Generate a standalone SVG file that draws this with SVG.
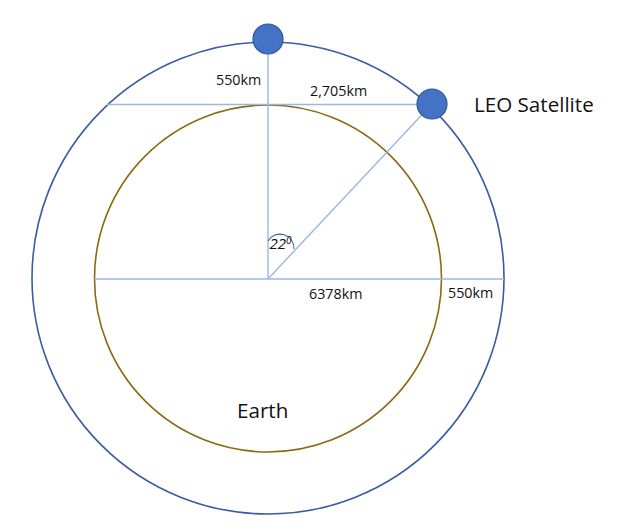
<svg xmlns="http://www.w3.org/2000/svg" width="624" height="532" viewBox="0 0 624 532">
<style>
  .ln { stroke: #9db5e3; stroke-width: 1.4; fill: none; }
  .orbit { stroke: #3a5ca3; stroke-width: 1.6; fill: none; }
  .earth { stroke: #8c6a12; stroke-width: 1.6; fill: none; }
  .sat { fill: #4472c4; stroke: #2f5597; stroke-width: 1.2; }
  .lbl { font-family: "Open Sans", "Liberation Sans", sans-serif; font-size: 14.3px; fill: #111; }
  .big { font-family: "Open Sans", "Liberation Sans", sans-serif; font-size: 20.6px; fill: #111; }
</style>
<rect width="624" height="532" fill="#ffffff"/>
<g id="orbit"><circle class="orbit" cx="268" cy="278" r="236"/></g>
<g id="earth-circle"><circle class="earth" cx="268" cy="278.5" r="173.5"/></g>
<g id="connectors">
  <line class="ln" x1="268" y1="279" x2="268" y2="40"/>
  <line class="ln" x1="94.5" y1="279" x2="504" y2="279"/>
  <line class="ln" x1="107" y1="104.5" x2="432" y2="104.5"/>
  <line class="ln" x1="268" y1="279" x2="432" y2="104"/>
  <path d="M268,241 A14,14 0 0 1 294,249" fill="none" stroke="#3a5ca3" stroke-width="1.1"/>
</g>
<g id="sat-top"><circle class="sat" cx="268" cy="39" r="15"/></g>
<g id="sat-leo"><circle class="sat" cx="432" cy="104" r="15"/></g>
<g id="labels">
  <text class="lbl" x="216" y="85">550km</text>
  <text class="lbl" x="310" y="96">2,705km</text>
  <text class="big" x="474" y="112">LEO Satellite</text>
  <text class="lbl" x="309" y="299">6378km</text>
  <text class="lbl" x="448" y="298">550km</text>
  <text class="big" x="237" y="418">Earth</text>
  <text font-family="Open Sans, Liberation Sans, sans-serif" font-style="italic" font-size="15" fill="#111" x="269.5" y="249">22<tspan font-size="10" dy="-5">0</tspan></text>
</g>
</svg>
